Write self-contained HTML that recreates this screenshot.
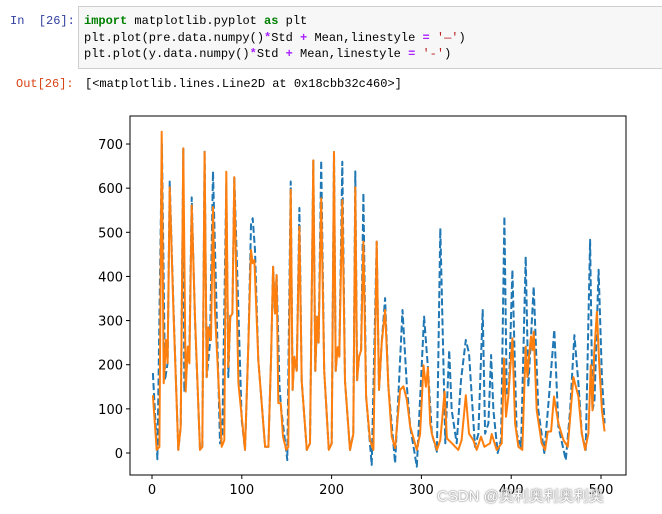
<!DOCTYPE html>
<html><head><meta charset="utf-8"><style>
body{margin:0;width:662px;height:514px;background:#fff;overflow:hidden;position:relative;font-family:"Liberation Mono","Noto Sans CJK SC",monospace;}
.prompt{position:absolute;font-size:12px;}
#code{position:absolute;left:78px;top:6px;width:590px;height:63px;background:#f7f7f7;border:1px solid #cfcfcf;box-sizing:border-box;}
.ln{position:absolute;left:5px;font-size:12px;color:#000;white-space:pre;}
.k{color:#008000;font-weight:bold}.o{color:#aa22ff;font-weight:bold}.s{color:#ba2121}
</style></head><body>
<div class="prompt" style="left:10px;top:14px;color:#303f9f">In&nbsp;&nbsp;[26]:</div>
<div id="code">
<div class="ln" style="top:7px"><span class="k">import</span> matplotlib.pyplot <span class="k">as</span> plt</div>
<div class="ln" style="top:24px">plt.plot(pre.data.numpy()<span class="o">*</span>Std <span class="o">+</span> Mean,linestyle <span class="o">=</span> <span class="s">'—'</span>)</div>
<div class="ln" style="top:40px">plt.plot(y.data.numpy()<span class="o">*</span>Std <span class="o">+</span> Mean,linestyle <span class="o">=</span> <span class="s">'-'</span>)</div>
</div>
<div class="prompt" style="left:16px;top:77px;color:#d84315">Out[26]:</div>
<div class="prompt" style="left:85px;top:77px;color:#000">[&lt;matplotlib.lines.Line2D at 0x18cbb32c460&gt;]</div>
<svg id="chart" width="662" height="514" style="position:absolute;left:0;top:0"></svg>
<div style="position:absolute;left:437px;top:485px;font-family:'Liberation Sans','Noto Sans CJK SC',sans-serif;font-size:15px;color:#fff;text-shadow:0 0 2px #888,0 0 1px #666">CSDN @奥利奥利奥利奥</div>
<script>
const xTicks=[0,100,200,300,400,500];
const yTicks=[0,100,200,300,400,500,600,700];
const predX=[1,6,11,14.5,17.4,19.7,24,29.3,32,34.9,36,39,41.6,44.2,47.9,53.5,56,58.6,60.9,64.6,67.9,75.7,78.3,82.7,85,87.2,89.5,91.7,99.9,103.6,107.3,110.3,112.1,114.7,118.4,125.9,129.6,132.6,134.8,137,138.8,142,144,150.7,154.4,156.6,158.5,161.1,164.1,166.7,172.4,176,179.6,181.8,183.9,185.5,188.4,191.8,196.9,200.1,202.7,204.6,206.8,208.6,211.9,214.9,220.5,224.2,226.4,228.4,230.5,232.8,235.4,238.4,244.6,250.2,252.8,255.8,259.6,263.3,270.7,279,283.8,287.5,294.9,303,307.2,311.7,317.3,321,326.6,331,333.7,339.3,344.1,349.4,353,359.7,363.5,368.3,370.9,374.6,377.6,380.2,385,388.7,392.4,395,397.6,401.3,406.1,411,416.1,419,425,430.2,436.9,442.1,448,452.6,460.8,465.6,470.4,474.8,478.6,483,487.9,490.5,492.8,497.3,501,504];
const predY=[181,-14,700,165,204,615,320,7,59,690,139,203,230,579,300,7,14,685,172,249,638,22,37,610,172,316,316,625,75,7,249,517,532,460,211,14,14,218,422,316,403,150,97,-16,615,143,218,186,555,163,7,22,663,186,309,250,663,186,7,22,682,186,240,218,660,163,7,43,638,165,218,233,589,128,-27,479,143,249,351,150,-23,324,150,60,-31,309,193,43,3,509,22,233,97,22,165,256,226,14,44,324,44,67,222,97,0,30,536,135,150,415,44,14,445,150,377,97,0,128,279,60,-16,97,267,158,44,7,483,97,120,415,173,67];
const actX=[1,5.2,8.2,10.8,13,15.6,17.4,19.7,23.8,29.3,32,34.9,37.5,39.7,41.6,44.2,47.9,53.5,56,58.6,60.9,62.7,65.7,67.9,70.1,77.6,80.5,82.7,85,87.2,89.5,91.7,96.2,103.6,107.3,110.3,112.1,114,118.4,125.9,129.6,132.6,134.8,137,138.8,140.7,143.3,145.9,149.6,151.8,154.4,156.6,158.5,161.1,164.1,166.7,172.4,176,179.6,181.8,183.9,185.5,188.4,191.8,196.9,200.1,202.7,204.6,206.8,208.6,211.9,214.9,220.5,224.2,226.4,228.4,230.5,232.8,235.4,238.4,242.8,246.5,250.2,252.8,255.8,259.6,263.3,267,270.7,276.3,280,283.8,287.5,294.9,298.6,302.3,305,307.2,309.8,311.7,317.3,321,325.8,328.4,334,341.1,344.8,349.4,353,357.8,361.6,366.4,370.2,376.4,378.3,383.8,389.4,392,394.2,396.8,401.3,404.3,408,412.4,416.1,418,419.8,422.1,423.6,425,428.4,434,437.7,440.6,444.4,447.7,452.6,458.2,463,469.3,474.8,478.6,482.3,486,488.6,490.5,492.4,495.4,498,501,504];
const actY=[131,7,14,728,158,256,204,602,324,7,59,690,139,241,203,561,308,7,14,682,172,285,256,557,324,14,29,637,195,308,316,625,158,7,249,460,430,437,211,14,14,218,422,316,403,113,113,37,7,14,596,143,218,186,513,163,7,22,663,186,309,250,577,186,7,22,682,186,240,218,573,163,7,43,602,165,218,233,479,128,29,7,479,143,249,324,150,37,11,143,151,120,60,7,43,199,150,193,67,43,7,29,139,33,22,7,29,131,44,29,7,37,14,22,43,7,22,214,82,128,260,67,14,7,241,172,218,264,233,275,97,22,7,48,49,128,67,29,14,172,128,44,7,44,199,97,226,320,203,97,49];
const NS='http://www.w3.org/2000/svg';
const svg=document.getElementById('chart');
const L=130,R=626,T=116,B=475;
const sx=v=>152+v*0.898, sy=v=>453-v*0.4414;
function mk(t,a){const e=document.createElementNS(NS,t);for(const k in a)e.setAttribute(k,a[k]);svg.appendChild(e);return e;}
function line(xs,ys,color,dash,name){
  const d=xs.map((x,i)=>(i?'L':'M')+sx(x).toFixed(1)+','+sy(ys[i]).toFixed(1)).join('');
  const p=mk('path',{d:d,fill:'none',stroke:color,'stroke-width':2,'stroke-linejoin':'round'});
  if(dash)p.setAttribute('stroke-dasharray',dash);
  
  
}
line(predX,predY,'#1f77b4','7,3','series-prediction');
line(actX,actY,'#ff7f0e',null,'series-actual');
const fr=mk('rect',{x:L,y:T,width:R-L,height:B-T,fill:'none',stroke:'#000','stroke-width':1});


xTicks.forEach(v=>{
  const tk=mk('line',{x1:sx(v),x2:sx(v),y1:B,y2:B+4,stroke:'#000'});
  
  
  const t=mk('text',{x:sx(v),y:B+19,'text-anchor':'middle','font-size':13,'font-family':'DejaVu Sans, sans-serif'});
  t.textContent=v;
  
  
});
yTicks.forEach(v=>{
  const tk=mk('line',{x1:L-4,x2:L,y1:sy(v),y2:sy(v),stroke:'#000'});
  
  
  const t=mk('text',{x:L-7,y:sy(v)+5,'text-anchor':'end','font-size':13,'font-family':'DejaVu Sans, sans-serif'});
  t.textContent=v;
  
  
});
</script>
</body></html>
